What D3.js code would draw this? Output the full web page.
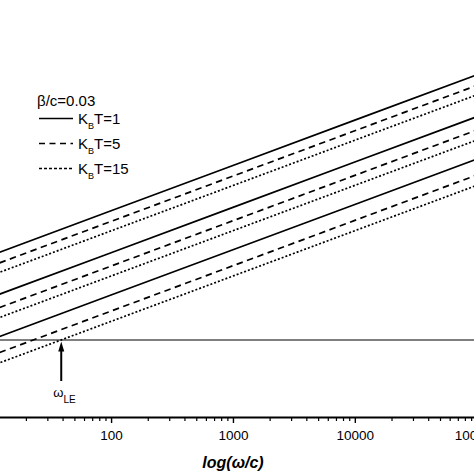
<!DOCTYPE html>
<html>
<head>
<meta charset="utf-8">
<script src="https://cdn.jsdelivr.net/npm/d3@7"></script>
<style>
  html, body { margin: 0; padding: 0; background: #fff; }
  svg { display: block; }
  text { font-family: "Liberation Sans", Arial, sans-serif; fill: #000; }
</style>
</head>
<body>
<script>
// ---- data ----
const omega = [10, 100, 1000, 10000, 100000];           // ω/c
const tickValuesMajor = [100, 1000, 10000, 100000];
const tickLabels = ["100", "1000", "10000", "100000"];
// three groups, each with K_BT = 1 (solid), 5 (dashed), 15 (dotted)
const g1_kt1  = [70.8, 708, 7080, 70800, 708000];
const g1_kt5  = [41.2, 412, 4120, 41200, 412000];
const g1_kt15 = [25.5, 255, 2550, 25500, 255000];
const g2_kt1  = [8.41, 84.1, 841, 8410, 84100];
const g2_kt5  = [4.27, 42.7, 427, 4270, 42700];
const g2_kt15 = [2.57, 25.7, 257, 2570, 25700];
const g3_kt1  = [0.977, 9.77, 97.7, 977, 9770];
const g3_kt5  = [0.434, 4.34, 43.4, 434, 4340];
const g3_kt15 = [0.257, 2.57, 25.7, 257, 2570];
const thresholdLevel = 1;      // horizontal line
const omegaLE = 39;            // ω_LE marker
const legendTitle = "β/c=0.03";
const legendLabels = ["1", "5", "15"];
const xTitle = "log(ω/c)";

// ---- layout ----
const W = 474, H = 474;
const axisY = 417;
const svg = d3.select("body").append("svg").attr("width", W).attr("height", H);

const x = d3.scaleLog().domain([10, 100000]).range([-10.8, 476.7]);
const y = d3.scaleLog().domain([Math.pow(10, -1.7), Math.pow(10, 7.5)]).range([axisY, 0]);

const styles = [
  {dash: null},
  {dash: "6.5,4.5"},
  {dash: "2,2"}
];
const series = [
  {v: g1_kt1, s: 0}, {v: g1_kt5, s: 1}, {v: g1_kt15, s: 2},
  {v: g2_kt1, s: 0}, {v: g2_kt5, s: 1}, {v: g2_kt15, s: 2},
  {v: g3_kt1, s: 0}, {v: g3_kt5, s: 1}, {v: g3_kt15, s: 2}
];

const line = d3.line().x((d, i) => x(omega[i])).y(d => y(d));

svg.append("defs").append("clipPath").attr("id", "plot")
  .append("rect").attr("x", -20).attr("y", 0).attr("width", W + 40).attr("height", axisY);

const g = svg.append("g").attr("clip-path", "url(#plot)");
series.forEach(se => {
  g.append("path")
    .datum(se.v)
    .attr("d", line)
    .attr("fill", "none")
    .attr("stroke", "#000")
    .attr("stroke-width", 1.7)
    .attr("stroke-dasharray", styles[se.s].dash);
});

// horizontal threshold line
g.append("line")
  .attr("x1", x(10)).attr("x2", x(100000))
  .attr("y1", y(thresholdLevel)).attr("y2", y(thresholdLevel))
  .attr("stroke", "#000").attr("stroke-width", 1.1);

// arrow for ω_LE
const ax = x(omegaLE);
const tipY = y(thresholdLevel) + 1.5;
svg.append("line")
  .attr("x1", ax).attr("x2", ax)
  .attr("y1", tipY + 8).attr("y2", 381)
  .attr("stroke", "#000").attr("stroke-width", 2);
svg.append("path")
  .attr("d", `M${ax},${tipY} L${ax - 3},${tipY + 10} L${ax + 3},${tipY + 10} Z`)
  .attr("fill", "#000");
const le = svg.append("text").attr("x", ax - 8).attr("y", 397).attr("font-size", 13);
le.append("tspan").text("ω");
le.append("tspan").attr("dy", 6).attr("font-size", 10).text("LE");

// x axis
const minorTicks = [];
for (let dec = 10; dec < 100000; dec *= 10)
  for (let k = 2; k <= 9; k++) minorTicks.push(dec * k);

const xAxis = d3.axisBottom(x).tickValues(tickValuesMajor)
  .tickFormat((d, i) => tickLabels[i]).tickSize(6).tickPadding(7);
const axg = svg.append("g").attr("transform", `translate(0,${axisY})`).call(xAxis);
axg.select(".domain").attr("stroke-width", 1.8);
axg.selectAll(".tick line").attr("stroke-width", 1.4);
axg.selectAll(".tick text").attr("font-size", 13.5)
  .attr("font-family", '"Liberation Sans", Arial, sans-serif');

const minorAxis = d3.axisBottom(x).tickValues(minorTicks).tickFormat("").tickSize(4);
const mg = svg.append("g").attr("transform", `translate(0,${axisY})`).call(minorAxis);
mg.select(".domain").remove();
mg.selectAll(".tick line").attr("stroke-width", 1.2);

// x title
svg.append("text")
  .attr("x", 233).attr("y", 468)
  .attr("text-anchor", "middle")
  .attr("font-size", 16).attr("font-weight", "bold").attr("font-style", "italic")
  .text(xTitle);

// legend
svg.append("text").attr("x", 37).attr("y", 106).attr("font-size", 15).text(legendTitle);
const legDash = [null, "6,4.5", "3,2"];
legendLabels.forEach((lab, i) => {
  const ly = 118.5 + i * 25;
  svg.append("line")
    .attr("x1", 39).attr("x2", 73).attr("y1", ly).attr("y2", ly)
    .attr("stroke", "#000").attr("stroke-width", 1.6)
    .attr("stroke-dasharray", legDash[i]);
  const t = svg.append("text").attr("x", 78).attr("y", ly + 5.5).attr("font-size", 15);
  t.append("tspan").text("K");
  t.append("tspan").attr("dy", 5).attr("font-size", 9).text("B");
  t.append("tspan").attr("dy", -5).text("T=" + lab);
});
</script>
</body>
</html>
